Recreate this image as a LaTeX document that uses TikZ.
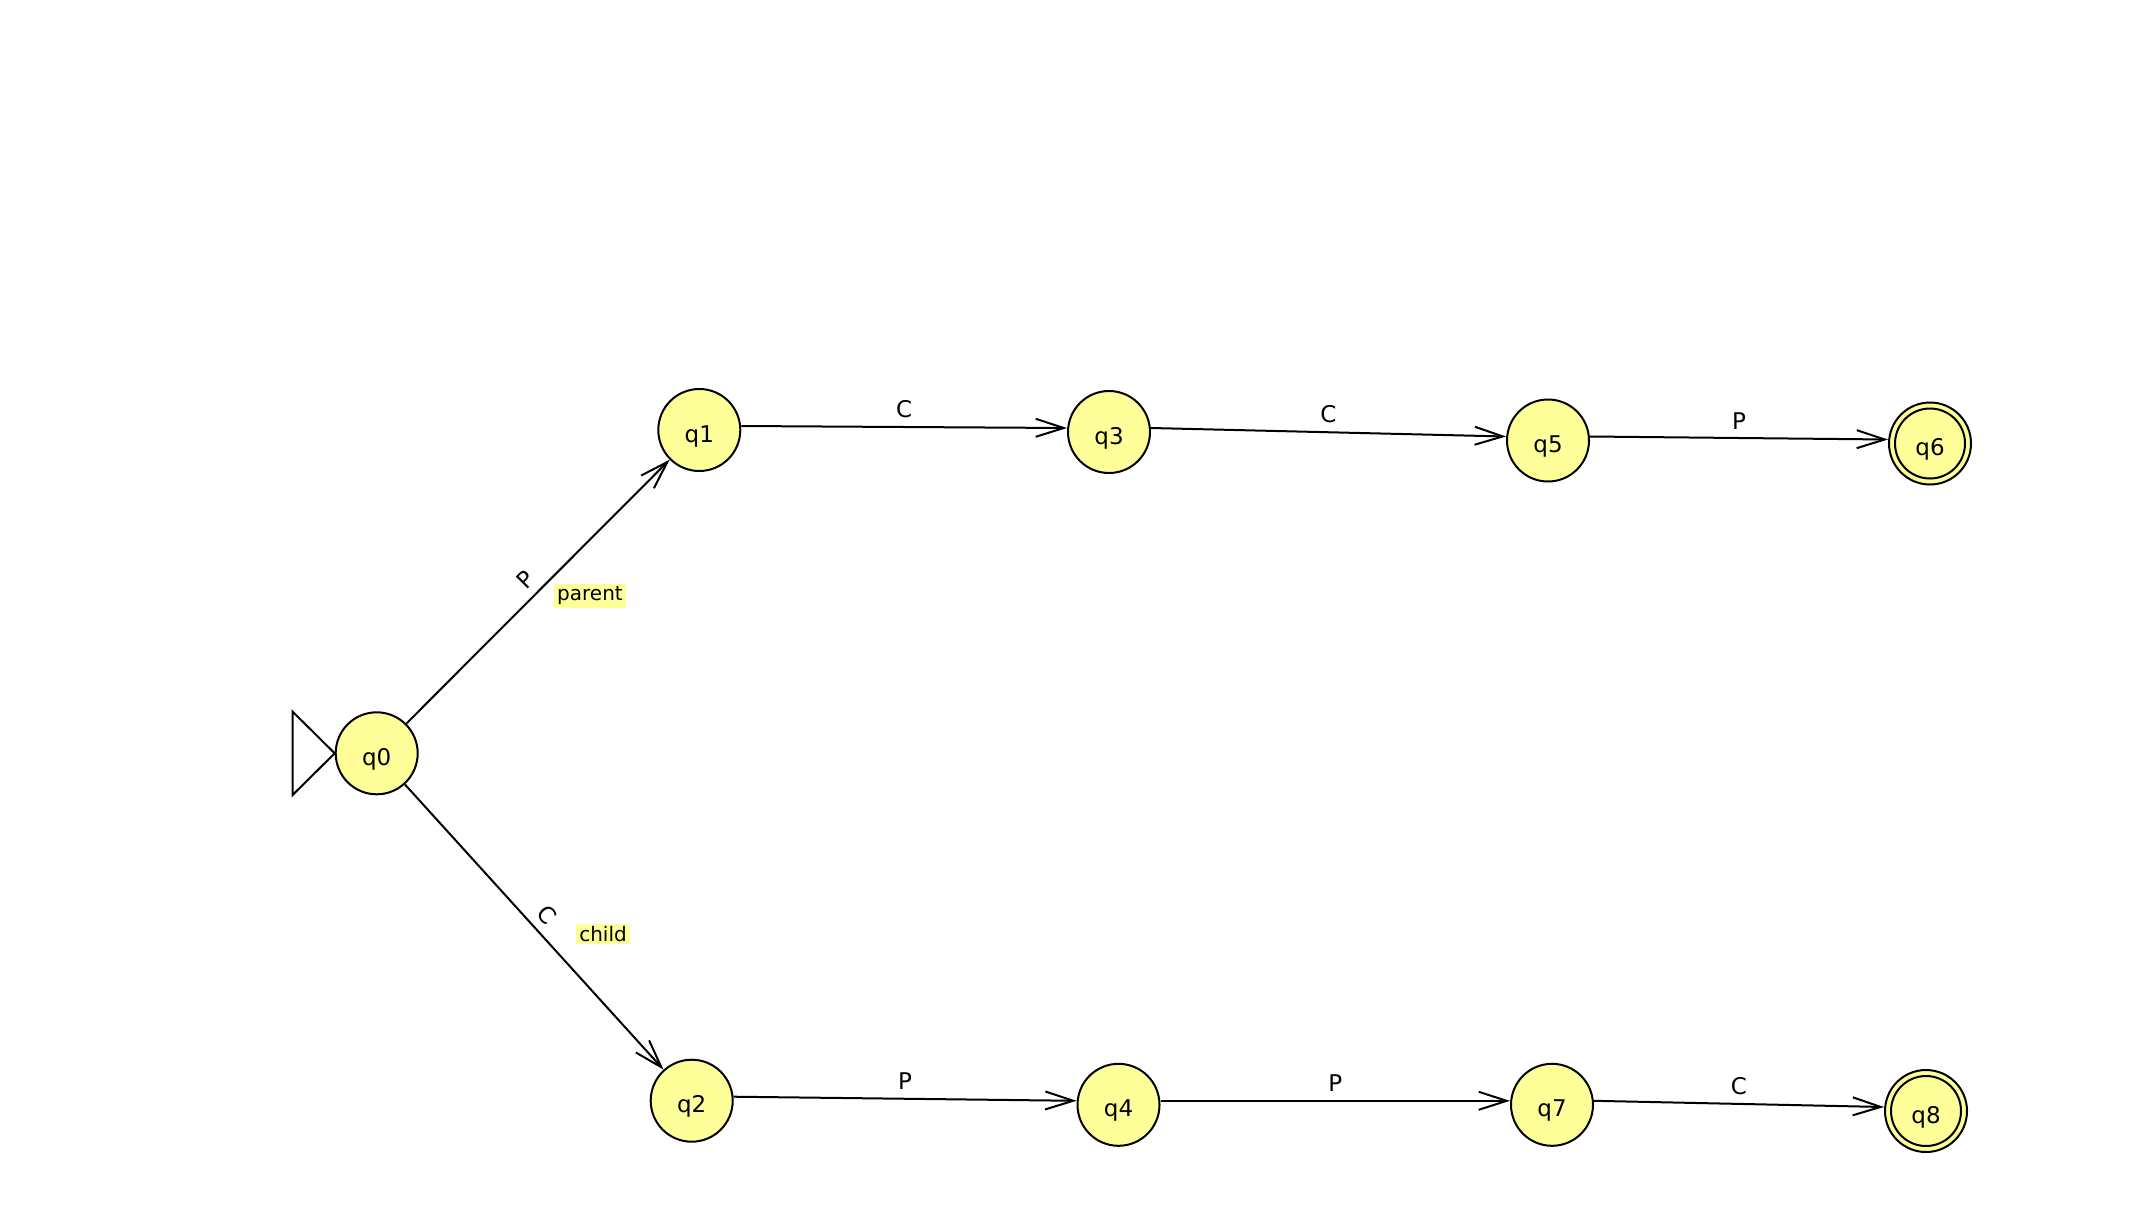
\documentclass[tikz,border=0pt]{standalone}
\usepackage{fontspec}
\setmainfont{DejaVu Sans}
\usetikzlibrary{arrows.meta,calc}
\definecolor{stfill}{RGB}{255,255,153}
\begin{document}
\begin{tikzpicture}[x=1pt,y=-1pt,
 state/.style={circle,draw,line width=2pt,fill=stfill,minimum size=82pt,inner sep=0pt,text height=24pt,text depth=0pt,font=\fontsize{23}{27}\selectfont},
 trans/.style={line width=2pt,-{Straight Barb[length=28pt,width=18pt,line width=2pt]}},
 elab/.style={font=\fontsize{23}{27}\selectfont, inner sep=3pt},
 note/.style={fill=stfill,inner xsep=3.5pt,inner ysep=2.5pt,font=\fontsize{20}{24}\selectfont}]
\useasboundingbox (0,0) rectangle (2152,1207);
\node[state] (q0) at (376.7,753.3) {q0};
\node[state] (q1) at (699.3,430) {q1};
\node[state] (q3) at (1109,432) {q3};
\node[state] (q5) at (1548,440.5) {q5};
\node[state] (q6) at (1930,443.5) {q6};
\node[state] (q2) at (691.7,1100.7) {q2};
\node[state] (q4) at (1118.5,1104.8) {q4};
\node[state] (q7) at (1552,1104.8) {q7};
\node[state] (q8) at (1926,1111) {q8};
\draw[line width=2pt] (q6) circle (35);
\draw[line width=2pt] (q8) circle (35);
\draw[line width=2pt,line join=miter] ($(q0.west)+(-42,-41.6)$) -- (q0.west) -- ($(q0.west)+(-42,41.6)$) -- cycle;
\draw[trans] (q0) -- node[elab,sloped,above=5pt] {P} (q1);
\draw[trans] (q0) -- node[elab,sloped,above=5pt] {C} (q2);
\draw[trans] ([yshift=4pt]q1.east) -- node[elab,above=5pt] {C} ([yshift=4pt]q3.west);
\draw[trans] ([yshift=4pt]q3.east) -- node[elab,above=5pt] {C} ([yshift=4pt]q5.west);
\draw[trans] ([yshift=4pt]q5.east) -- node[elab,above=5pt] {P} ([yshift=4pt]q6.west);
\draw[trans] ([yshift=4pt]q2.east) -- node[elab,above=5pt] {P} ([yshift=4pt]q4.west);
\draw[trans] ([yshift=4pt]q4.east) -- node[elab,above=5pt] {P} ([yshift=4pt]q7.west);
\draw[trans] ([yshift=4pt]q7.east) -- node[elab,above=5pt] {C} ([yshift=4pt]q8.west);
\node[note] (n1) at (590,596) {parent};
\node[note] (n2) at (603,934) {child};
\end{tikzpicture}
\end{document}
